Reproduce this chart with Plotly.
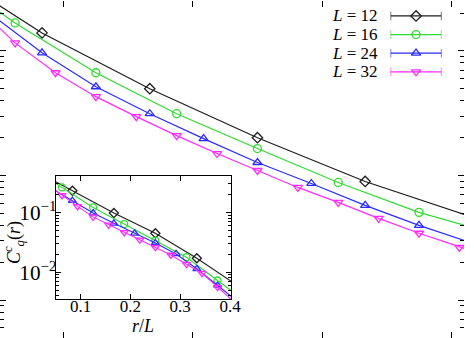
import plotly.graph_objects as go

# ---------------- data ----------------
sizes = [12, 16, 24, 32]
labels = ["<i>L</i> = 12", "<i>L</i> = 16", "<i>L</i> = 24", "<i>L</i> = 32"]
colors = ["#1e1e1e", "#2edb2e", "#2b2bff", "#ff2bff"]
symbols = ["diamond-open", "circle-open", "triangle-up-open", "triangle-down-open"]

# main panel: r values and correlation values
r_main_12 = [0, 1, 2, 3, 4, 5]
c_main_12 = [0.497, 0.1393, 0.0497, 0.0201, 0.00895, 0.00461]
r_main_16 = [0, 1, 2, 3, 4, 5, 6, 7]
c_main_16 = [0.479, 0.1675, 0.0667, 0.0313, 0.01644, 0.00879, 0.00506, 0.00331]
r_main_24 = [1, 2, 3, 4, 5, 6, 7, 8, 9, 10]
c_main_24 = [0.205, 0.0964, 0.0515, 0.0313, 0.01977, 0.01271, 0.00863, 0.00575, 0.00398, 0.00286]
r_main_32 = [1, 2, 3, 4, 5, 6, 7, 8, 9, 10, 11, 12, 13, 14]
c_main_32 = [0.2355, 0.1159, 0.0667, 0.0429, 0.02965, 0.02089, 0.0150, 0.01096,
             0.00802, 0.00608, 0.00453, 0.00344, 0.00265, 0.00209]

# inset: C_q^c(r) vs r/L
r_ins_12 = [0, 1, 2, 3, 4, 5]
c_ins_12 = [0.545, 0.230, 0.0973, 0.0447, 0.0171, 0.00585]
r_ins_16 = [0, 1, 2, 3, 4, 5, 6, 7]
c_ins_16 = [0.562, 0.261, 0.121, 0.0638, 0.0338, 0.0178, 0.00727, 0.00298]
r_ins_24 = [1, 2, 3, 4, 5, 6, 7, 8, 9, 10]
c_ins_24 = [0.252, 0.157, 0.0973, 0.0656, 0.0447, 0.0308, 0.0202, 0.0114, 0.0060, 0.00316]
r_ins_32 = [1, 2, 3, 4, 5, 6, 7, 8, 9, 10, 11, 12, 13]
c_ins_32 = [0.301, 0.192, 0.126, 0.0841, 0.0619, 0.0464, 0.0348, 0.0261, 0.0194,
            0.0136, 0.00962, 0.00562, 0.0033]

main_sets = [(r_main_12, c_main_12), (r_main_16, c_main_16),
             (r_main_24, c_main_24), (r_main_32, c_main_32)]
ins_sets = [(r_ins_12, c_ins_12), (r_ins_16, c_ins_16),
            (r_ins_24, c_ins_24), (r_ins_32, c_ins_32)]

# axis ranges
main_xrange = [0.0508, 0.4098]
main_yrange = [-3.304, -0.6]
ins_xrange = [0.05, 0.402]
ins_yrange = [-2.45, -0.4]

W, H = 474, 338
FONT = "Liberation Serif"

fig = go.Figure()

# ---- main panel ----
for (r, c), Lsz, col, sym in zip(main_sets, sizes, colors, symbols):
    fig.add_trace(go.Scatter(
        x=[ri / Lsz for ri in r], y=c, mode="lines+markers",
        line=dict(color=col, width=1.2),
        marker=dict(symbol=sym, size=8, color=col, line=dict(color=col, width=1.3)),
        xaxis="x", yaxis="y", showlegend=False, hoverinfo="skip"))

# ---- inset background (covers main curves) ----
fig.add_trace(go.Scatter(
    x=[ins_xrange[0], ins_xrange[1], ins_xrange[1], ins_xrange[0], ins_xrange[0]],
    y=[10 ** ins_yrange[0], 10 ** ins_yrange[0], 10 ** ins_yrange[1], 10 ** ins_yrange[1], 10 ** ins_yrange[0]],
    fill="toself", fillcolor="white", mode="lines", line=dict(width=0, color="white"),
    xaxis="x2", yaxis="y2", showlegend=False, hoverinfo="skip"))

for (r, c), Lsz, col, sym in zip(ins_sets, sizes, colors, symbols):
    fig.add_trace(go.Scatter(
        x=[ri / Lsz for ri in r], y=c, mode="lines+markers",
        line=dict(color=col, width=1.1),
        marker=dict(symbol=sym, size=7, color=col, line=dict(color=col, width=1.3)),
        xaxis="x2", yaxis="y2", showlegend=False, hoverinfo="skip"))

# ---- custom legend (text left, sample right) ----
row_px = [15, 33.7, 52.3, 71]
leg_top, leg_bot = 5, 81
for k, (col, sym, lab) in enumerate(zip(colors, symbols, labels)):
    fig.add_trace(go.Scatter(x=[0, 1], y=[k, k], mode="lines",
                             line=dict(color=col, width=1.2),
                             xaxis="x3", yaxis="y3", showlegend=False, hoverinfo="skip"))
    fig.add_trace(go.Scatter(x=[0, 1], y=[k, k], mode="markers",
                             marker=dict(symbol="line-ns", size=6, line=dict(color=col, width=1.2)),
                             xaxis="x3", yaxis="y3", showlegend=False, hoverinfo="skip"))
    fig.add_trace(go.Scatter(x=[0.5], y=[k], mode="markers",
                             marker=dict(symbol=sym, size=8, color=col, line=dict(color=col, width=1.3)),
                             xaxis="x3", yaxis="y3", showlegend=False, hoverinfo="skip"))
    fig.add_annotation(x=388 / W, y=1 - row_px[k] / H, xref="paper", yref="paper",
                       xanchor="right", yanchor="middle", text=lab, showarrow=False,
                       font=dict(family=FONT, size=17, color="black"))

px_per_row = (row_px[-1] - row_px[0]) / 3
leg_range = [(leg_bot - row_px[0]) / px_per_row, (leg_top - row_px[0]) / px_per_row]

# inset axis titles
fig.add_annotation(x=146.5 / W, y=1 - 326 / H, xref="paper", yref="paper",
                   xanchor="center", yanchor="middle", showarrow=False,
                   text="<i>r</i>/<i>L</i>", font=dict(family=FONT, size=18, color="black"))
fig.add_annotation(x=14 / W, y=1 - 242 / H, xref="paper", yref="paper",
                   xanchor="center", yanchor="middle", showarrow=False, textangle=-90,
                   text="<i>C</i><sup><i>c</i></sup><sub><i>q</i></sub>(<i>r</i>)",
                   font=dict(family=FONT, size=18, color="black"))

tick_font = dict(family=FONT, size=17, color="black")

fig.update_layout(
    width=W, height=H, margin=dict(l=0, r=0, t=0, b=0),
    paper_bgcolor="white", plot_bgcolor="white",
    xaxis=dict(domain=[0, 1], range=main_xrange, dtick=0.1, tick0=0,
               ticks="inside", ticklen=6, tickcolor="black", tickwidth=1,
               showticklabels=False, showgrid=False, zeroline=False,
               showline=True, linecolor="rgba(0,0,0,0)", mirror="ticks", anchor="y"),
    yaxis=dict(domain=[0, 1], type="log", range=main_yrange, dtick=1,
               ticks="inside", ticklen=6, tickcolor="black", tickwidth=1,
               minor=dict(ticks="inside", ticklen=4, dtick="D1", tickcolor="black", showgrid=False),
               showticklabels=False, showgrid=False, zeroline=False,
               showline=True, linecolor="rgba(0,0,0,0)", mirror="ticks", anchor="x"),
    xaxis2=dict(domain=[57 / W, 236 / W], range=ins_xrange, dtick=0.1, tick0=0,
                ticks="inside", ticklen=5, tickcolor="black",
                showline=True, linecolor="black", linewidth=1, mirror="ticks",
                showgrid=False, zeroline=False, anchor="y2",
                tickfont=tick_font, ticklabelstandoff=-9),
    yaxis2=dict(domain=[1 - 299 / H, 1 - 176 / H], type="log", range=ins_yrange, dtick=1,
                exponentformat="power",
                ticks="inside", ticklen=5, tickcolor="black",
                minor=dict(ticks="inside", ticklen=3, dtick="D1", tickcolor="black", showgrid=False),
                showline=True, linecolor="black", linewidth=1, mirror="ticks",
                showgrid=False, zeroline=False, anchor="x2",
                tickfont=tick_font, ticklabelstandoff=-5),
    xaxis3=dict(domain=[399 / W, 451 / W], range=[0, 1], visible=False, anchor="y3"),
    yaxis3=dict(domain=[1 - leg_bot / H, 1 - leg_top / H], range=leg_range, visible=False, anchor="x3"),
)

fig.write_html("out.html")
